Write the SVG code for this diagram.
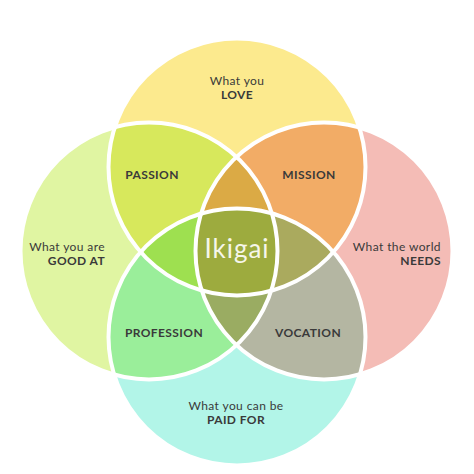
<svg xmlns="http://www.w3.org/2000/svg" width="474" height="474" viewBox="0 0 474 474">
<style>
.lbl{font-family:Lato,"Open Sans","Liberation Sans",sans-serif;fill:#3a3a3a;font-size:12px;letter-spacing:0.4px}
.b{font-weight:700}
.ring{fill:none;stroke:#ffffff;stroke-width:4}
.ik{font-family:Lato,"Open Sans","Liberation Sans",sans-serif;fill:#f6f6ea;font-size:26px;letter-spacing:1px;text-anchor:middle}
</style>
<defs>
<circle id="T" cx="237" cy="167" r="128.5"/>
<circle id="B" cx="237" cy="337" r="128.5"/>
<circle id="L" cx="149" cy="251" r="128.5"/>
<circle id="R" cx="324" cy="251" r="128.5"/>
<clipPath id="cT"><circle cx="237" cy="167" r="128.5"/></clipPath>
<clipPath id="cB"><circle cx="237" cy="337" r="128.5"/></clipPath>
<clipPath id="cL"><circle cx="149" cy="251" r="128.5"/></clipPath>
<clipPath id="cR"><circle cx="324" cy="251" r="128.5"/></clipPath>
</defs>
<rect width="474" height="474" fill="#ffffff"/>

<g id="love"><use href="#T" fill="#FCEA8E"/></g>
<g id="good-at"><use href="#L" fill="#E0F5A2"/></g>
<g id="needs"><use href="#R" fill="#F4BCB6"/></g>
<g id="paid-for"><use href="#B" fill="#B2F5E8"/></g>

<g id="passion" clip-path="url(#cL)"><use href="#T" fill="#D7E85C"/></g>
<g id="mission" clip-path="url(#cR)"><use href="#T" fill="#F2AC66"/></g>
<g id="profession" clip-path="url(#cL)"><use href="#B" fill="#9AEE9A"/></g>
<g id="vocation" clip-path="url(#cR)"><use href="#B" fill="#B4B6A2"/></g>

<g id="tlr" clip-path="url(#cL)"><g clip-path="url(#cR)"><use href="#T" fill="#DBAA45"/></g></g>
<g id="tlb" clip-path="url(#cL)"><g clip-path="url(#cB)"><use href="#T" fill="#9EE050"/></g></g>
<g id="trb" clip-path="url(#cR)"><g clip-path="url(#cB)"><use href="#T" fill="#AAAA5E"/></g></g>
<g id="lrb" clip-path="url(#cL)"><g clip-path="url(#cR)"><use href="#B" fill="#9AAC62"/></g></g>
<g id="ikigai" clip-path="url(#cL)"><g clip-path="url(#cR)"><g clip-path="url(#cB)"><use href="#T" fill="#9DAB3E"/></g></g></g>

<g id="outlines">
<use href="#T" class="ring"/>
<use href="#B" class="ring"/>
<use href="#L" class="ring"/>
<use href="#R" class="ring"/>
</g>

<g id="labels">
<text class="lbl" x="237" y="84.5" text-anchor="middle">What you</text>
<text class="lbl b" x="237" y="98.5" text-anchor="middle">LOVE</text>
<text class="lbl b" x="152" y="179" text-anchor="middle">PASSION</text>
<text class="lbl b" x="309" y="179" text-anchor="middle">MISSION</text>
<text class="lbl" x="105" y="250.5" text-anchor="end">What you are</text>
<text class="lbl b" x="105" y="264.5" text-anchor="end">GOOD AT</text>
<text class="lbl" x="441" y="250.5" text-anchor="end">What the world</text>
<text class="lbl b" x="441" y="264.5" text-anchor="end">NEEDS</text>
<text class="lbl b" x="164" y="337" text-anchor="middle">PROFESSION</text>
<text class="lbl b" x="308" y="337" text-anchor="middle">VOCATION</text>
<text class="lbl" x="236" y="409.5" text-anchor="middle">What you can be</text>
<text class="lbl b" x="236" y="424" text-anchor="middle">PAID FOR</text>
<text class="ik" x="237" y="258">Ikigai</text>
</g>
</svg>
